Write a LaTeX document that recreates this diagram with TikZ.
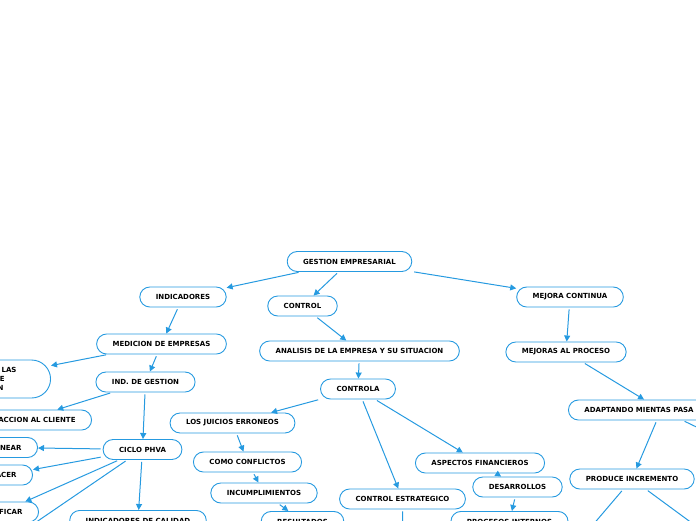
\documentclass[tikz,border=0pt]{standalone}
\usepackage{fontspec}
\setmainfont{DejaVu Sans}
\usetikzlibrary{arrows.meta}
\definecolor{mapblue}{RGB}{38,154,224}
\tikzset{
idea/.style={draw=mapblue, line width=0.9pt, fill=white, rounded corners=10pt,
  minimum height=20pt, inner xsep=16pt, inner ysep=2pt,
  font=\fontsize{7}{9}\selectfont\bfseries},
link/.style={draw=mapblue, line width=1pt, shorten <=2pt,
  -{Triangle[length=6pt,width=6pt]}}
}
\begin{document}
\begin{tikzpicture}[x=1pt,y=-1pt]
\useasboundingbox (0,0) rectangle (696,520);
\clip (0,0) rectangle (696,520);
\node[idea] (g) at (349.5,261.5) {GESTION EMPRESARIAL};
\node[idea] (ind) at (183,297) {INDICADORES};
\node[idea] (ctl) at (302.5,306) {CONTROL};
\node[idea] (mc) at (570,297) {MEJORA CONTINUA};
\node[idea] (med) at (161.5,344) {MEDICION DE EMPRESAS};
\node[idea] (ana) at (359.5,351) {ANALISIS DE LA EMPRESA Y SU SITUACION};
\node[idea] (mp) at (566,352) {MEJORAS AL PROCESO};
\node[idea, anchor=east, minimum height=38pt, rounded corners=19pt, align=right] (nec) at (51,379)
  {SATISFACCION DE LAS\rule{18pt}{0pt}\\NECESIDADES DE\rule{30pt}{0pt}\\LA ORGANIZACION\rule{31pt}{0pt}};
\node[idea] (ig) at (145.5,382) {IND. DE GESTION};
\node[idea] (cla) at (358,389) {CONTROLA};
\node[idea, anchor=east] (sat) at (92,420) {SATISFACCION AL CLIENTE};
\node[idea] (jui) at (232.5,423) {LOS JUICIOS ERRONEOS};
\node[idea, anchor=west] (ada) at (568,410) {ADAPTANDO MIENTAS PASA EL TIEMPO};
\node[idea, anchor=east] (pla) at (38,447.5) {PLANEAR};
\node[idea] (phva) at (142.5,449.5) {CICLO PHVA};
\node[idea] (asp) at (480,463) {ASPECTOS FINANCIEROS};
\node[idea] (conf) at (247.5,462) {COMO CONFLICTOS};
\node[idea, anchor=east] (hac) at (33,475) {HACER};
\node[idea] (pi) at (632,479) {PRODUCE INCREMENTO};
\node[idea] (des) at (517.5,487) {DESARROLLOS};
\node[idea] (inc) at (264,493) {INCUMPLIMIENTOS};
\node[idea] (ce) at (402.5,499) {CONTROL ESTRATEGICO};
\node[idea, anchor=east] (ver) at (39,512) {VERIFICAR};
\node[idea, anchor=north] (cal) at (138,510) {INDICADORES DE CALIDAD};
\node[idea, anchor=north] (res) at (302.5,511) {RESULTADOS};
\node[idea, anchor=north] (proc) at (509.5,511) {PROCESOS INTERNOS};
\coordinate (act) at (10,540);
\coordinate (ce2) at (403,545);
\coordinate (pi2) at (580,540);
\coordinate (pi3) at (700,529);
\coordinate (ada2) at (740,448);
\foreach \a/\b in {g/ind, g/ctl, g/mc, ind/med, ctl/ana, mc/mp, med/nec, med/ig,
  ana/cla, mp/ada, ig/sat, ig/phva, cla/jui, cla/ce, cla/asp, ada/pi, ada/ada2,
  phva/pla, phva/hac, phva/ver, phva/act, phva/cal, jui/conf, conf/inc, inc/res,
  asp/des, des/proc, ce/ce2, pi/pi2, pi/pi3}
  \draw[link] (\a) -- (\b);
\end{tikzpicture}
\end{document}
